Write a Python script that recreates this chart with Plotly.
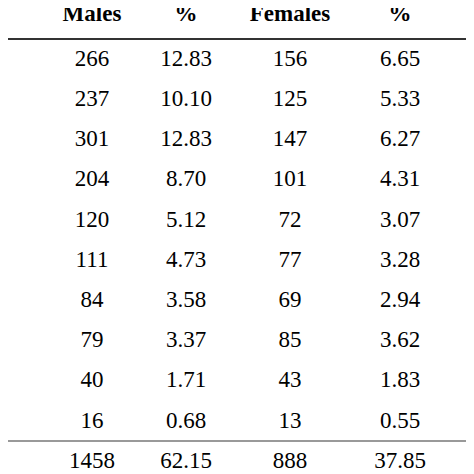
import plotly.graph_objects as go

headers = ["Males", "%", "Females", "%"]
males = ["266", "237", "301", "204", "120", "111", "84", "79", "40", "16"]
males_pct = ["12.83", "10.10", "12.83", "8.70", "5.12", "4.73", "3.58", "3.37", "1.71", "0.68"]
females = ["156", "125", "147", "101", "72", "77", "69", "85", "43", "13"]
females_pct = ["6.65", "5.33", "6.27", "4.31", "3.07", "3.28", "2.94", "3.62", "1.83", "0.55"]
totals = ["1458", "62.15", "888", "37.85"]

col_x = [92, 186, 290, 400]
header_y = 15
row_y = [60 + i * 40.2 for i in range(len(males))]
total_y = 462
font = "Liberation Serif, Times New Roman, serif"
fs = 23

fig = go.Figure()
fig.add_trace(go.Scatter(x=col_x, y=[header_y] * 4, text=[f"<b>{h}</b>" for h in headers],
                         mode="text", textfont=dict(family=font, size=fs, color="black")))
for cx, col in zip(col_x, [males, males_pct, females, females_pct]):
    fig.add_trace(go.Scatter(x=[cx] * len(col), y=row_y, text=col, mode="text",
                             textfont=dict(family=font, size=fs, color="black")))
fig.add_trace(go.Scatter(x=col_x, y=[total_y] * 4, text=totals, mode="text",
                         textfont=dict(family=font, size=fs, color="black")))

fig.add_shape(type="line", x0=-20, x1=500, y0=39, y1=39, line=dict(color="#333", width=2))
fig.add_shape(type="line", x0=-20, x1=500, y0=441, y1=441, line=dict(color="#777", width=1.5))

fig.update_layout(width=474, height=474, margin=dict(l=0, r=0, t=0, b=0),
                  paper_bgcolor="white", plot_bgcolor="white", showlegend=False,
                  xaxis=dict(range=[8, 482], visible=False, fixedrange=True),
                  yaxis=dict(range=[482, 8], visible=False, fixedrange=True))
fig.write_html("out.html", config={"displayModeBar": False})
